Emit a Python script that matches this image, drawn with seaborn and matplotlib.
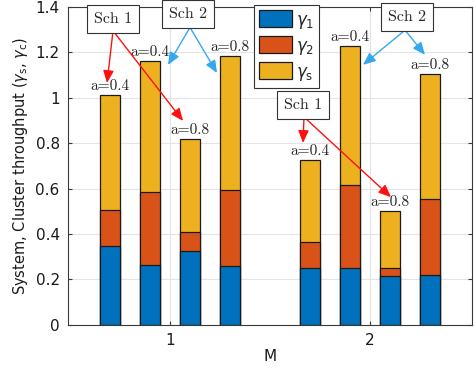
"""
Stacked throughput bars per cluster size M
"""

import numpy as np
import pandas as pd
import matplotlib
matplotlib.use("Agg")
import matplotlib.pyplot as plt
from matplotlib.patches import Patch
import seaborn as sns

sns.set_style("whitegrid")

plt.rcParams["font.family"] = ["DejaVu Sans"]
plt.rcParams["mathtext.fontset"] = "dejavusans"

########################################################
# data

M = [1, 1, 1, 1, 2, 2, 2, 2]
a_labels = ["a=0.4", "a=0.4", "a=0.8", "a=0.8",
            "a=0.4", "a=0.4", "a=0.8", "a=0.8"]

gamma_1 = [0.345, 0.263, 0.323, 0.260, 0.252, 0.249, 0.216, 0.219]
gamma_2 = [0.161, 0.320, 0.086, 0.334, 0.113, 0.367, 0.035, 0.335]
gamma_s = [0.505, 0.580, 0.410, 0.589, 0.361, 0.610, 0.251, 0.552]

y_ticks = [0, 0.2, 0.4, 0.6, 0.8, 1, 1.2, 1.4]
y_tick_labels = ["0", "0.2", "0.4", "0.6", "0.8", "1", "1.2", "1.4"]
x_ticks = [1, 2]

########################################################

BLUE = "#0072BD"
ORANGE = "#D95319"
YELLOW = "#EDB120"
EDGE = "#1a1a1a"
RED_ARROW = "#FF1010"
BLUE_ARROW = "#35A8F0"

slot = [-0.3, -0.1, 0.1, 0.3] * 2

df = pd.DataFrame({
    "pos": np.array(M, dtype=float) + np.array(slot),
    "g1": gamma_1,
    "g2": gamma_2,
    "gs": gamma_s,
    "label": a_labels,
})
df["top2"] = df["g1"] + df["g2"]
df["total"] = df["top2"] + df["gs"]

fig = plt.figure(figsize=(4.74, 3.86), dpi=100)
ax = fig.add_axes([0.1435, 0.1588, 0.8523, 0.8231])

# overlay cumulative bars, back to front
for col, colour in [("total", YELLOW), ("top2", ORANGE), ("g1", BLUE)]:
    sns.barplot(
        data=df,
        x="pos",
        y=col,
        native_scale=True,
        width=0.5,
        color=colour,
        saturation=1,
        edgecolor=EDGE,
        linewidth=0.9,
        errorbar=None,
        ax=ax,
    )

for _, row in df.iterrows():
    ax.annotate(
        row["label"],
        xy=(row["pos"], row["total"]),
        xytext=(0, 1.5),
        textcoords="offset points",
        ha="center",
        va="bottom",
        fontsize=11,
        family="cmr10",
    )

########################################################
# scheme call-outs

box = dict(boxstyle="square,pad=0.45", fc="white", ec="#333333", lw=0.8)


def callout(text, centre, start, tips, colour):

    ax.text(
        centre[0], centre[1], text,
        ha="center", va="center",
        fontsize=11.5, family="cmr10",
        bbox=box, zorder=6,
    )

    for tip in tips:
        ax.annotate(
            "",
            xy=tip,
            xytext=start,
            arrowprops=dict(
                arrowstyle="-|>,head_length=0.75,head_width=0.32",
                color=colour,
                lw=1.0,
                shrinkA=0,
                shrinkB=0,
            ),
            zorder=5,
        )


callout("Sch 1", (0.715, 1.347), (0.715, 1.295),
        [(0.685, 1.065), (1.065, 0.898)], RED_ARROW)
callout("Sch 2", (1.09, 1.369), (1.10, 1.31),
        [(0.99, 1.145), (1.235, 1.109)], BLUE_ARROW)
callout("Sch 2", (2.185, 1.356), (2.175, 1.298),
        [(1.965, 1.145), (2.275, 1.189)], BLUE_ARROW)
callout("Sch 1", (1.665, 0.968), (1.67, 0.915),
        [(1.665, 0.801), (2.105, 0.562)], RED_ARROW)

########################################################
# axes styling

ax.set_xlim(0.49, 2.51)
ax.set_ylim(0, 1.4)
ax.set_xticks(x_ticks)
ax.set_xticklabels([str(v) for v in x_ticks])
ax.set_yticks(y_ticks)
ax.set_yticklabels(y_tick_labels)

ax.grid(True, color="#e4e4e4", linewidth=0.8)
ax.set_axisbelow(True)

for side in ["top", "right", "bottom", "left"]:
    ax.spines[side].set_visible(True)
    ax.spines[side].set_color("#3a3a3a")
    ax.spines[side].set_linewidth(0.8)

ax.tick_params(
    direction="in", length=3, width=0.8, colors="#3a3a3a",
    labelcolor="#1a1a1a", labelsize=11,
    top=True, right=True, left=True, bottom=True, pad=6,
)

ax.set_xlabel("M", fontsize=11, color="#1a1a1a", labelpad=1)
ax.set_ylabel(
    r"System, Cluster throughput ($\gamma_\mathrm{s}$, $\gamma_\mathrm{c}$)",
    fontsize=10.5, color="#1a1a1a", labelpad=4,
)

handles = [
    Patch(facecolor=BLUE, edgecolor=EDGE, lw=0.9, label=r"$\gamma_1$"),
    Patch(facecolor=ORANGE, edgecolor=EDGE, lw=0.9, label=r"$\gamma_2$"),
    Patch(facecolor=YELLOW, edgecolor=EDGE, lw=0.9, label=r"$\gamma_\mathrm{s}$"),
]

leg = ax.legend(
    handles=handles,
    loc="upper left",
    bbox_to_anchor=(0.46, 1.005),
    borderaxespad=0,
    fontsize=12,
    handlelength=2.0,
    handleheight=1.2,
    labelspacing=0.35,
    handletextpad=0.2,
    borderpad=0.3,
    fancybox=False,
    framealpha=1,
    edgecolor="#333333",
)
leg.get_frame().set_linewidth(0.8)
leg.set_zorder(7)

plt.savefig("out.png", dpi=100)

plt.close()
